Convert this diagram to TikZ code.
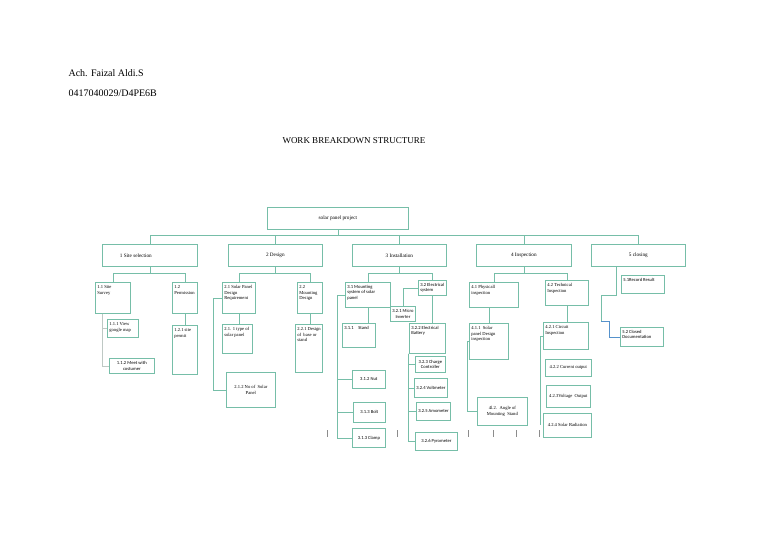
\documentclass[tikz,border=0pt]{standalone}
\usepackage{fontspec}
\setmainfont{Liberation Serif}
\newfontfamily\wbssans{Carlito}
\usetikzlibrary{calc}

\definecolor{wbsline}{RGB}{118,190,168}
\definecolor{wbsgray}{RGB}{190,200,196}
\definecolor{wbsblue}{RGB}{86,146,204}
\newcommand{\tlbox}[3]{\parbox[t][\dimexpr#2pt-4pt\relax][t]{\dimexpr#1pt-4pt\relax}{%
    \begin{tabular}[t]{@{}l@{}}#3\end{tabular}}}

\tikzset{
    wbs/.style={draw=wbsline, line width=0.7pt, anchor=north west, inner sep=2pt,
        font=\fontsize{4.6}{5.7}\selectfont},
    cbox/.style 2 args={wbs, minimum width=#1, minimum height=#2, align=center},
    headbox/.style={font=\fontsize{5.2}{6.2}\selectfont},
    sans/.style={font=\wbssans\fontsize{4.6}{5.6}\selectfont},
    conn/.style={draw=wbsline, line width=0.6pt},
    faint/.style={draw=wbsgray, line width=0.6pt},
    tickmark/.style={draw=black!45, line width=0.4pt},
}

\begin{document}
\begin{tikzpicture}[x=1pt, y=-1pt]

    \path[fill=white, use as bounding box] (0,0) rectangle (768,543);

    \node[anchor=base west] (author) at (65,76) {Ach. Faizal Aldi.S};
    \node[anchor=base west] (nim) at (65,96) {0417040029/D4PE6B};
    \node[anchor=base, font=\fontsize{9}{10}\selectfont] (title) at (354,143) {WORK BREAKDOWN STRUCTURE};

    \node[cbox={141pt}{22pt}, headbox] (top) at (267,207) {solar panel project};

    \node[cbox={95pt}{22pt}, headbox] (ss) at (102,244) {1 Site selection\hspace{28pt}};
    \node[cbox={94pt}{22pt}, headbox] (dg) at (228,244) {2 Design};
    \node[cbox={94pt}{22pt}, headbox] (ins) at (352,244) {3 Installation};
    \node[cbox={95pt}{22pt}, headbox] (isp) at (476,244) {4 Inspection};
    \node[cbox={94pt}{22pt}, headbox] (cls) at (591,244) {5 closing};

    \node[wbs] (s11) at (95,282) {\tlbox{35}{31}{1.1 Site\\Survey}};
    \node[wbs] (s12) at (172,282) {\tlbox{25}{31}{1.2\\Permission}};
    \node[wbs] (s111) at (107,319) {\tlbox{31}{18}{1.1.1 View\\google map}};
    \node[cbox={45pt}{15pt}, sans] (s112) at (109,358) {1.1.2 Meet with\\costumer};
    \node[wbs] (s121) at (172,325) {\tlbox{25}{49}{1.2.1 site\\permit}};

    \node[wbs] (d21) at (222,282) {\tlbox{33}{31}{2.1 Solar Panel\\Design\\Requirement}};
    \node[wbs] (d22) at (297,282) {\tlbox{25}{31}{2.2\\Mounting\\Design}};
    \node[wbs] (d211) at (222,324) {\tlbox{30}{29}{2.1. 1 type of\\solar panel}};
    \node[wbs] (d221) at (295,324) {\tlbox{27}{48}{2.2.1 Design\\of \ base or\\stand}};
    \node[cbox={49pt}{35pt}] (d212) at (226,372) {2.1.2 No of \ Solar\\Panel};

    \node[wbs, sans] (i31) at (345,282) {\tlbox{45}{25}{3.1 Mounting\\system of solar\\panel}};
    \node[wbs, sans] (i32) at (418,280) {\tlbox{28}{15}{3.2 Electrical\\system}};
    \node[cbox={24pt}{15pt}, sans] (i321) at (390,306) {3.2.1 Micro\\Inverter};
    \node[wbs, sans] (i311) at (342,323) {\tlbox{33}{24}{3.1.1\quad Stand}};
    \node[wbs, sans] (i322) at (409,323) {\tlbox{36}{30}{3.2.2 Electrical\\Battery}};
    \node[cbox={33pt}{18pt}, sans] (i312) at (352,370) {3.1.2 Nut};
    \node[cbox={32pt}{20pt}, sans] (i313) at (353,402) {3.1.3 Bolt};
    \node[cbox={33pt}{19pt}, sans] (i314) at (352,428) {3.1.3 Clamp};
    \node[cbox={30pt}{16pt}, sans] (i323) at (415,356) {3.2.3 Charge\\Controller};
    \node[cbox={31pt}{19pt}, sans] (i324) at (414,378) {3.2.4 Voltmeter};
    \node[cbox={29pt}{18pt}, sans] (i325) at (416,402) {3.2.5 Amometer};
    \node[cbox={42pt}{18pt}, sans] (i326) at (415,432) {3.2.6 Pyrometer};

    \node[wbs] (p41) at (469,282) {\tlbox{49}{25}{4.1 Physicall\\inspection}};
    \node[wbs] (p42) at (545,280) {\tlbox{43}{25}{4.2 Technical\\Inspection}};
    \node[wbs] (p411) at (469,323) {\tlbox{39}{36}{4.1.1 \ Solar\\panel Design\\inspection}};
    \node[cbox={50pt}{28pt}] (p412) at (477,397) {4l.2. \ Angle of\\Mounting \ Stand};
    \node[wbs] (p421) at (543,322) {\tlbox{45}{27}{4.2.1 Circuit\\Inspection}};
    \node[cbox={46pt}{17pt}] (p422) at (545,359) {4.2.2 Current output};
    \node[cbox={44pt}{22pt}] (p423) at (546,385) {4.2.3Voltage \ Output};
    \node[cbox={48pt}{24pt}] (p424) at (543,413) {4.2.4 Solar Radiation};

    \node[wbs, sans] (c51) at (621,275) {\tlbox{43}{18}{5.1Record Result}};
    \node[wbs, sans] (c52) at (620,327) {\tlbox{43}{19}{5.2 Closed\\Documentation}};

    \draw[conn] (top.south) -- ++(0,6) coordinate (bus0);
    \foreach \n in {ss,dg,ins,isp,cls}
        \draw[conn] (bus0) -| (\n.north);

    \foreach \p/\a/\b in {ss/s11/s12, dg/d21/d22, ins/i31/i32, isp/p41/p42}{
        \draw[conn] (\p.south) -- ++(0,7);
        \draw[conn] (\a.north) |- ([yshift=-7pt]\p.south) -| (\b.north);
    }

    \draw[conn] (s12.south) -- (s12.south |- s121.north);
    \draw[faint] ([xshift=7pt]s11.south west) |- (s111.west);
    \draw[faint] ([xshift=7pt]s11.south west) |- (s112.west);

    \draw[conn] (d21.south) -- (d21.south |- d211.north);
    \draw[conn] (d22.south) -- (d22.south |- d221.north);
    \draw[conn] (d21.west) -- ++(-9,0) |- (d212.west);

    \draw[conn] (i31.south) -- (i31.south |- i311.north);
    \foreach \n in {i312,i313,i314}
        \draw[conn] (i31.west) -- ++(-8,0) |- (\n.west);
    \draw[conn] (i32.west) -| (i321.north);
    \draw[conn] (i32.south) -- (i32.south |- i322.north);
    \foreach \n in {i323,i324,i325,i326}
        \draw[conn] ([xshift=-1pt]i322.south west) |- (\n.west);

    \draw[conn] (p411.north) -- (p411.north |- p41.south);
    \draw[conn] (p411.west) -- ++(-2,0) |- (p412.west);
    \draw[conn] (p42.south) -- (p42.south |- p421.north);
    \draw[conn] (p421.west) -- ++(-3,0) -- ([xshift=-3pt]p424.west);

    \draw[conn] ([xshift=-22pt]cls.south) -- ++(0,29) -- ++(-15,0) -- ++(0,26) coordinate (bend);
    \draw[draw=wbsblue, line width=0.6pt] (bend) -- ++(8,0) |- (c52.west);

    \foreach \x in {327,397,468,493,516,539}
        \draw[tickmark] (\x,430) -- (\x,437);

\end{tikzpicture}
\end{document}
